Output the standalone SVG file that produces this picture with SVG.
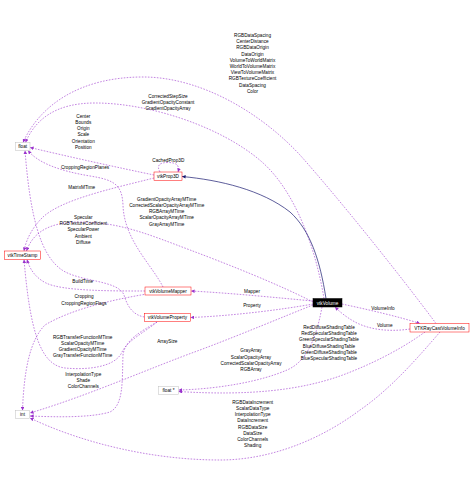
<svg xmlns="http://www.w3.org/2000/svg" width="474" height="482" viewBox="0 0 474 482">
<defs>
<style>
text{font-family:"Liberation Sans",Arial,sans-serif;font-size:4.7px;text-anchor:middle;fill:#000}
.e{fill:none;stroke:#9a32cd;stroke-width:0.6;stroke-dasharray:1.6,1.4}
.inh{fill:none;stroke:#191970;stroke-width:0.7}
.cls{fill:#fff;stroke:#ff0000;stroke-width:0.5}
.typ{fill:#fff;stroke:#bfbfbf;stroke-width:0.5}
.cur{fill:#000;stroke:#000;stroke-width:0.5}
.w{fill:#fff}
</style>
<marker id="ap" viewBox="0 0 10 10" markerUnits="userSpaceOnUse" markerWidth="4" markerHeight="3.6" refX="10" refY="5" orient="auto"><path d="M0,0 L10,5 L0,10 z" fill="#9a32cd"/></marker>
<marker id="ab" viewBox="0 0 10 10" markerUnits="userSpaceOnUse" markerWidth="4" markerHeight="3.6" refX="10" refY="5" orient="auto"><path d="M0,0 L10,5 L0,10 z" fill="#191970"/></marker>
</defs>
<rect width="474" height="482" fill="#fff"/>
<g id="connectors">
<path class="e" marker-end="url(#ap)" d="M436,323.5 C400,275 340,200 300,155 C260,112 200,77 143,77 C80,77 40,105 23,142.5"/>
<path class="e" marker-end="url(#ap)" d="M324,298.5 C316,250 296,192 262,162 C222,127 150,103 95,103 C55,103 35,120 25.5,142.5"/>
<path class="e" marker-end="url(#ap)" d="M154,175 C120,168 70,157 30,147.5"/>
<path class="e" marker-end="url(#ap)" d="M160,172 C156,165 160,162.5 168,162.5 C176,162.5 180,165 178,172"/>
<path class="e" marker-end="url(#ap)" d="M154,178 C110,189 60,200 42,218 C32,228 26,240 24,251"/>
<path class="e" marker-end="url(#ap)" d="M163,287 C152,265 124,240 123,205 C122,185 115,180 90,176 C60,171 38,163 28,150.5"/>
<path class="e" marker-end="url(#ap)" d="M144.5,317 C132,315 127,305 124,295 C118,280 80,282 62,270 C40,255 30,215 25,150.5"/>
<path class="e" marker-end="url(#ap)" d="M313,302 C280,285 230,265 190,250 C150,235 120,222 80,222 C50,222 33,232 26.5,251"/>
<path class="e" marker-end="url(#ap)" d="M145,291 C110,291 62,291 46,283 C36,278 30,270 27,259.5"/>
<path class="e" marker-end="url(#ap)" d="M157,322 C145,332 128,340 122,352 C115,368 85,370 65,368 C40,365 30,330 24,259.5"/>
<path class="e" marker-end="url(#ap)" d="M147,294 C110,300 70,310 45,325 C30,340 24,370 22.5,410.5"/>
<path class="e" marker-end="url(#ap)" d="M157,322 C140,332 125,340 123,355 C122,380 124,405 110,412 C90,418 55,417 30,416"/>
<path class="e" marker-end="url(#ap)" d="M313,305 C280,318 245,333 200,350 C150,368 90,395 30,413"/>
<path class="e" marker-end="url(#ap)" d="M440,332 C420,355 392,388 360,410 C320,440 270,460 220,460 C150,460 80,442 30,418"/>
<path class="e" marker-end="url(#ap)" d="M425,332 C400,350 370,365 340,376 C300,390 250,396 178.5,391.5"/>
<path class="e" marker-end="url(#ap)" d="M322,307 C316,340 306,362 287,370 C262,381 220,389 178.5,390"/>
<path class="e" marker-end="url(#ap)" d="M313,301 C280,298 230,293 191,291"/>
<path class="e" marker-end="url(#ap)" d="M313,304 C280,310 230,316 190.5,317.5"/>
<path class="e" marker-end="url(#ap)" d="M342,304 C370,310 400,317 420,323.5"/>
<path class="e" marker-end="url(#ap)" d="M410,329 C390,332 370,330 355,322 C346,317 340,312 335,307"/>
<path class="inh" marker-end="url(#ab)" d="M326,298.5 C320,260 310,230 290,212 C262,190 220,180 182,176.5"/>
</g>
<g id="labels">
<text x="252.5" y="37"><tspan x="252.5">RGBDataSpacing</tspan><tspan x="252.5" dy="6.2">CenterDistance</tspan><tspan x="252.5" dy="6.2">RGBDataOrigin</tspan><tspan x="252.5" dy="6.2">DataOrigin</tspan><tspan x="252.5" dy="6.2">VolumeToWorldMatrix</tspan><tspan x="252.5" dy="6.2">WorldToVolumeMatrix</tspan><tspan x="252.5" dy="6.2">ViewToVolumeMatrix</tspan><tspan x="252.5" dy="6.2">RGBTextureCoefficient</tspan><tspan x="252.5" dy="6.2">DataSpacing</tspan><tspan x="252.5" dy="6.2">Color</tspan></text>
<text x="168" y="98"><tspan x="168">CorrectedStepSize</tspan><tspan x="168" dy="6.2">GradientOpacityConstant</tspan><tspan x="168" dy="6.2">GradientOpacityArray</tspan></text>
<text x="83.3" y="117.8"><tspan x="83.3">Center</tspan><tspan x="83.3" dy="6.2">Bounds</tspan><tspan x="83.3" dy="6.2">Origin</tspan><tspan x="83.3" dy="6.2">Scale</tspan><tspan x="83.3" dy="6.2">Orientation</tspan><tspan x="83.3" dy="6.2">Position</tspan></text>
<text x="168.3" y="161.8">CachedProp3D</text>
<text x="85" y="169.4">CroppingRegionPlanes</text>
<text x="81.7" y="189">MatrixMTime</text>
<text x="166.7" y="200.7"><tspan x="166.7">GradientOpacityArrayMTime</tspan><tspan x="166.7" dy="6.2">CorrectedScalarOpacityArrayMTime</tspan><tspan x="166.7" dy="6.2">RGBArrayMTime</tspan><tspan x="166.7" dy="6.2">ScalarOpacityArrayMTime</tspan><tspan x="166.7" dy="6.2">GrayArrayMTime</tspan></text>
<text x="83.3" y="219"><tspan x="83.3">Specular</tspan><tspan x="83.3" dy="6.2">RGBTextureCoefficient</tspan><tspan x="83.3" dy="6.2">SpecularPower</tspan><tspan x="83.3" dy="6.2">Ambient</tspan><tspan x="83.3" dy="6.2">Diffuse</tspan></text>
<text x="82.7" y="282.7">BuildTime</text>
<text x="84" y="298.4"><tspan x="84">Cropping</tspan><tspan x="84" dy="6.2">CroppingRegionFlags</tspan></text>
<text x="252" y="293">Mapper</text>
<text x="252" y="307.4">Property</text>
<text x="383" y="310.4">VolumeInfo</text>
<text x="384.7" y="327.4">Volume</text>
<text x="329" y="329"><tspan x="329">RedDiffuseShadingTable</tspan><tspan x="329" dy="6.2">RedSpecularShadingTable</tspan><tspan x="329" dy="6.2">GreenSpecularShadingTable</tspan><tspan x="329" dy="6.2">BlueDiffuseShadingTable</tspan><tspan x="329" dy="6.2">GreenDiffuseShadingTable</tspan><tspan x="329" dy="6.2">BlueSpecularShadingTable</tspan></text>
<text x="82.7" y="338.7"><tspan x="82.7">RGBTransferFunctionMTime</tspan><tspan x="82.7" dy="6.2">ScalarOpacityMTime</tspan><tspan x="82.7" dy="6.2">GradientOpacityMTime</tspan><tspan x="82.7" dy="6.2">GrayTransferFunctionMTime</tspan></text>
<text x="167.3" y="342.7">ArraySize</text>
<text x="251" y="352.4"><tspan x="251">GrayArray</tspan><tspan x="251" dy="6.2">ScalarOpacityArray</tspan><tspan x="251" dy="6.2">CorrectedScalarOpacityArray</tspan><tspan x="251" dy="6.2">RGBArray</tspan></text>
<text x="83.3" y="375.7"><tspan x="83.3">InterpolationType</tspan><tspan x="83.3" dy="6.2">Shade</tspan><tspan x="83.3" dy="6.2">ColorChannels</tspan></text>
<text x="252.7" y="403.7"><tspan x="252.7">RGBDataIncrement</tspan><tspan x="252.7" dy="6.2">ScalarDataType</tspan><tspan x="252.7" dy="6.2">InterpolationType</tspan><tspan x="252.7" dy="6.2">DataIncrement</tspan><tspan x="252.7" dy="6.2">RGBDataSize</tspan><tspan x="252.7" dy="6.2">DataSize</tspan><tspan x="252.7" dy="6.2">ColorChannels</tspan><tspan x="252.7" dy="6.2">Shading</tspan></text>
</g>
<g id="node-float"><rect class="typ" x="15.5" y="142.5" width="14.5" height="8"/><text x="22.7" y="148.3">float</text></g>
<g id="node-vtkProp3D"><rect class="cls" x="154" y="172" width="28" height="8.5"/><text x="168" y="178">vtkProp3D</text></g>
<g id="node-vtkTimeStamp"><rect class="cls" x="4.5" y="251" width="36" height="8.5"/><text x="22.5" y="257">vtkTimeStamp</text></g>
<g id="node-vtkVolumeMapper"><rect class="cls" x="145" y="287" width="46" height="8"/><text x="168" y="292.7">vtkVolumeMapper</text></g>
<g id="node-vtkVolumeProperty"><rect class="cls" x="144.5" y="313.5" width="46" height="8"/><text x="167.5" y="319.2">vtkVolumeProperty</text></g>
<g id="node-int"><rect class="typ" x="15.5" y="410.5" width="14" height="8"/><text x="22.5" y="416.2">int</text></g>
<g id="node-floatptr"><rect class="typ" x="158.5" y="386.5" width="20" height="8"/><text x="168.5" y="392.2">float *</text></g>
<g id="node-vtkVolume"><rect class="cur" x="313" y="298.5" width="29" height="8.5"/><text class="w" x="327.5" y="304.5" style="fill:#fff">vtkVolume</text></g>
<g id="node-VTKRayCastVolumeInfo"><rect class="cls" x="410" y="323.5" width="59" height="8.5"/><text x="439.5" y="329.5">VTKRayCastVolumeInfo</text></g>
</svg>
